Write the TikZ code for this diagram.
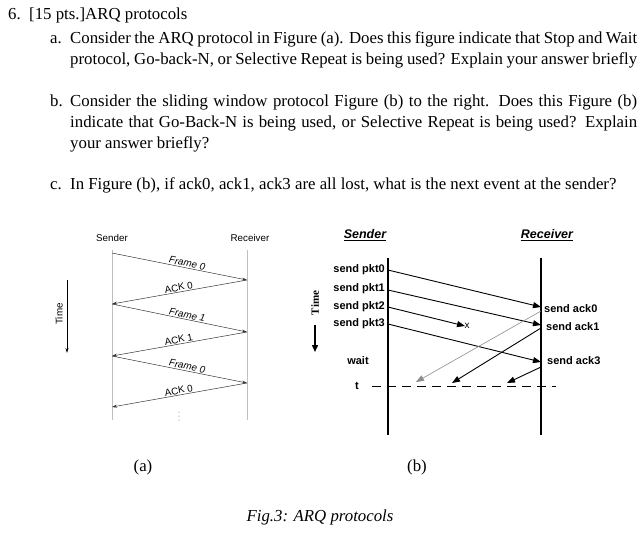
\documentclass[tikz,border=0pt]{standalone}
\usepackage{fontspec}
\setmainfont{Liberation Serif}
\newfontfamily\arial{Liberation Sans}
\usetikzlibrary{arrows.meta}
\begin{document}
\begin{tikzpicture}[x=1pt,y=-1pt,
  tfont/.style={font=\fontsize{16.8}{21}\selectfont},
  body/.style={tfont,inner sep=0,anchor=north west,text width=567pt,align=justify},
  lab/.style={tfont,inner sep=0,anchor=north west},
  afont/.style={font=\arial\fontsize{9.8}{11}\selectfont,inner sep=1pt},
  aital/.style={font=\arial\itshape\fontsize{9.8}{11}\selectfont,inner sep=1pt},
  bfont/.style={font=\arial\bfseries\fontsize{11}{12}\selectfont,inner sep=1pt},
  amsg/.style={draw=black!80,line width=0.5pt,-{Stealth[length=5pt,width=3pt]}},
  bmsg/.style={draw=black,line width=0.9pt,-{Triangle[length=8pt,width=6pt]}},
  tline/.style={line width=1.5pt}]
\useasboundingbox (0,0) rectangle (643,555);
\hyphenpenalty=10000
% question text
\node[lab] (q6) at (8,5) {\strut 6.\ \ [15 pts.]ARQ protocols};
\node[lab] (la) at (50,29) {\strut a.};
\node[body] (ta) at (70,29) {\strut Consider the ARQ protocol in Figure (a). Does this figure indicate that Stop and Wait\linebreak protocol, Go-back-N, or Selective Repeat is being used? Explain your answer briefly};
\node[lab] (lb) at (50,92) {\strut b.};
\node[body] (tb) at (70,92) {\strut Consider the sliding window protocol Figure (b) to the right. Does this Figure (b)\linebreak indicate that Go-Back-N is being used, or Selective Repeat is being used? Explain\linebreak your answer briefly?};
\node[lab] (lc) at (50,175) {\strut c.};
\node[lab] (tc) at (70,175) {\strut In Figure (b), if ack0, ack1, ack3 are all lost, what is the next event at the sender?};
% ---------- figure (a)
\node[afont] (as) at (112,238) {Sender};
\node[afont] (ar) at (250,238) {Receiver};
\draw[black!25,line width=0.4pt] (112,250) -- (112,420);
\draw[black!25,line width=0.4pt] (247,250) -- (247,420);
\coordinate (s0) at (112,253); \coordinate (r0) at (247,280);
\coordinate (s1) at (112,304); \coordinate (r1) at (247,332);
\coordinate (s2) at (112,356); \coordinate (r2) at (247,383);
\coordinate (s3) at (112,407);
\draw[amsg] (s0) -- node[aital,above,sloped,pos=0.55] {Frame 0} (r0);
\draw[amsg] (r0) -- node[afont,above,sloped,pos=0.5] {ACK 0} (s1);
\draw[amsg] (s1) -- node[aital,above,sloped,pos=0.55] {Frame 1} (r1);
\draw[amsg] (r1) -- node[afont,above,sloped,pos=0.5] {ACK 1} (s2);
\draw[amsg] (s2) -- node[aital,above,sloped,pos=0.55] {Frame 0} (r2);
\draw[amsg] (r2) -- node[afont,above,sloped,pos=0.5] {ACK 0} (s3);
\foreach \yy in {412,416,420} \fill[black!60] (179,\yy) circle (0.5pt);
\node[afont,rotate=90] (atime) at (59,314) {Time};
\coordinate (at1) at (67,280); \coordinate (at2) at (67,353);
\draw[line width=0.8pt,-{Stealth[length=5pt,width=3pt]}] (at1) -- (at2);
% ---------- figure (b)
\node[font=\arial\bfseries\itshape\fontsize{12.5}{14}\selectfont,inner sep=1pt] (bs) at (365,235) {\underline{Sender}};
\node[font=\arial\bfseries\itshape\fontsize{12.5}{14}\selectfont,inner sep=1pt] (br) at (547,235) {\underline{Receiver}};
\coordinate (S0) at (388,258); \coordinate (S1) at (388,435);
\coordinate (R0) at (541,258); \coordinate (R1) at (541,435);
\draw[tline] (S0) -- (S1);
\draw[tline] (R0) -- (R1);
\coordinate (p0) at (388,270); \coordinate (p1) at (388,290);
\coordinate (p2) at (388,307); \coordinate (p3) at (388,324);
\coordinate (e0) at (541,307); \coordinate (e1) at (541,325);
\coordinate (e2) at (465,326); \coordinate (e3) at (541,362);
\node[bfont,anchor=east] (lp0) at (386,270) {send pkt0};
\node[bfont,anchor=east] (lp1) at (386,289) {send pkt1};
\node[bfont,anchor=east] (lp2) at (386,307) {send pkt2};
\node[bfont,anchor=east] (lp3) at (386,324) {send pkt3};
\node[bfont] (lw) at (358,361) {wait};
\node[bfont] (lt) at (357,386) {t};
\draw[bmsg] (p0) -- (e0);
\draw[bmsg] (p1) -- (e1);
\draw[bmsg] (p2) -- (e2);
\draw[bmsg] (p3) -- (e3);
\node[font=\arial\fontsize{10}{11}\selectfont,inner sep=0] (xx) at (467,326) {x};
\node[bfont,anchor=west] (la0) at (543,309) {send ack0};
\node[bfont,anchor=west] (la1) at (545,327) {send ack1};
\node[bfont,anchor=west] (la3) at (546,361) {send ack3};
\coordinate (a0s) at (541,311); \coordinate (a0e) at (416,382);
\coordinate (a1s) at (541,328); \coordinate (a1e) at (452,383);
\coordinate (a3s) at (541,367); \coordinate (a3e) at (507,383);
\draw[draw=black!45,line width=0.6pt,-{Triangle[length=8pt,width=6pt]}] (a0s) -- (a0e);
\draw[bmsg] (a1s) -- (a1e);
\draw[bmsg] (a3s) -- (a3e);
\coordinate (t0) at (372,386); \coordinate (t1) at (556,386);
\draw[line width=0.8pt,dash pattern=on 9pt off 6pt] (t0) -- (t1);
\node[font=\fontsize{11}{12}\bfseries\selectfont,rotate=90,inner sep=0] (btime) at (315,303) {Time};
\coordinate (bt1) at (315,325); \coordinate (bt2) at (315,352);
\draw[line width=1.4pt,-{Triangle[length=7pt,width=6pt]}] (bt1) -- (bt2);
% captions
\node[tfont] (ca) at (143,467) {(a)};
\node[tfont] (cb) at (417,467) {(b)};
\node[tfont,font=\itshape\fontsize{16.8}{21}\selectfont] (cf) at (320,517) {Fig.3: ARQ protocols};
\end{tikzpicture}
\end{document}
